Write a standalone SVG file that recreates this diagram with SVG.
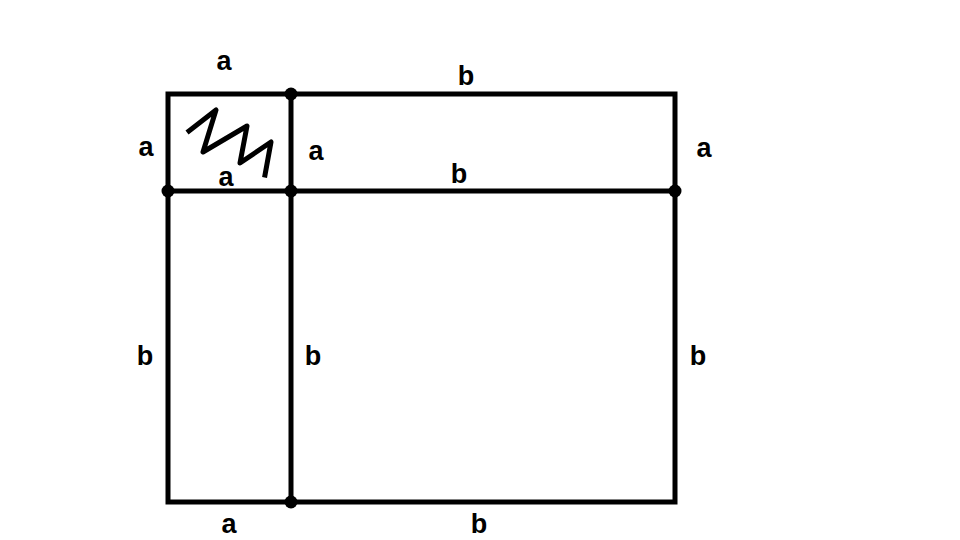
<svg xmlns="http://www.w3.org/2000/svg" width="960" height="540" viewBox="0 0 960 540">
<style>
.ln{stroke:#000;stroke-width:5;fill:none;stroke-linecap:square}
.t{font-family:"Liberation Sans",Arial,sans-serif;font-weight:bold;font-size:27px;text-anchor:middle;fill:#000}
</style>
<rect width="960" height="540" fill="#fff"/>
<g id="connectors">
<rect class="ln" x="168" y="94" width="507" height="408"/>
<line class="ln" x1="291" y1="94" x2="291" y2="502"/>
<line class="ln" x1="168" y1="191" x2="675" y2="191"/>
<polyline class="ln" stroke-linecap="round" stroke-linejoin="round" points="189,131 216,110 203,152 247,126 240,163 271,142 265,175"/>
</g>
<g id="dots" fill="#000">
<circle cx="291" cy="94" r="6.5"/>
<circle cx="168" cy="191" r="6.5"/>
<circle cx="291" cy="191" r="6.5"/>
<circle cx="675" cy="191" r="6.5"/>
<circle cx="291" cy="502" r="6.5"/>
</g>
<g id="labels">
<text class="t" x="224" y="70">a</text>
<text class="t" x="466" y="85">b</text>
<text class="t" x="146" y="156">a</text>
<text class="t" x="316" y="160">a</text>
<text class="t" x="226" y="186">a</text>
<text class="t" x="459" y="183">b</text>
<text class="t" x="704" y="157">a</text>
<text class="t" x="145" y="365">b</text>
<text class="t" x="313" y="365">b</text>
<text class="t" x="698" y="365">b</text>
<text class="t" x="229" y="533">a</text>
<text class="t" x="479" y="533">b</text>
</g>
</svg>
